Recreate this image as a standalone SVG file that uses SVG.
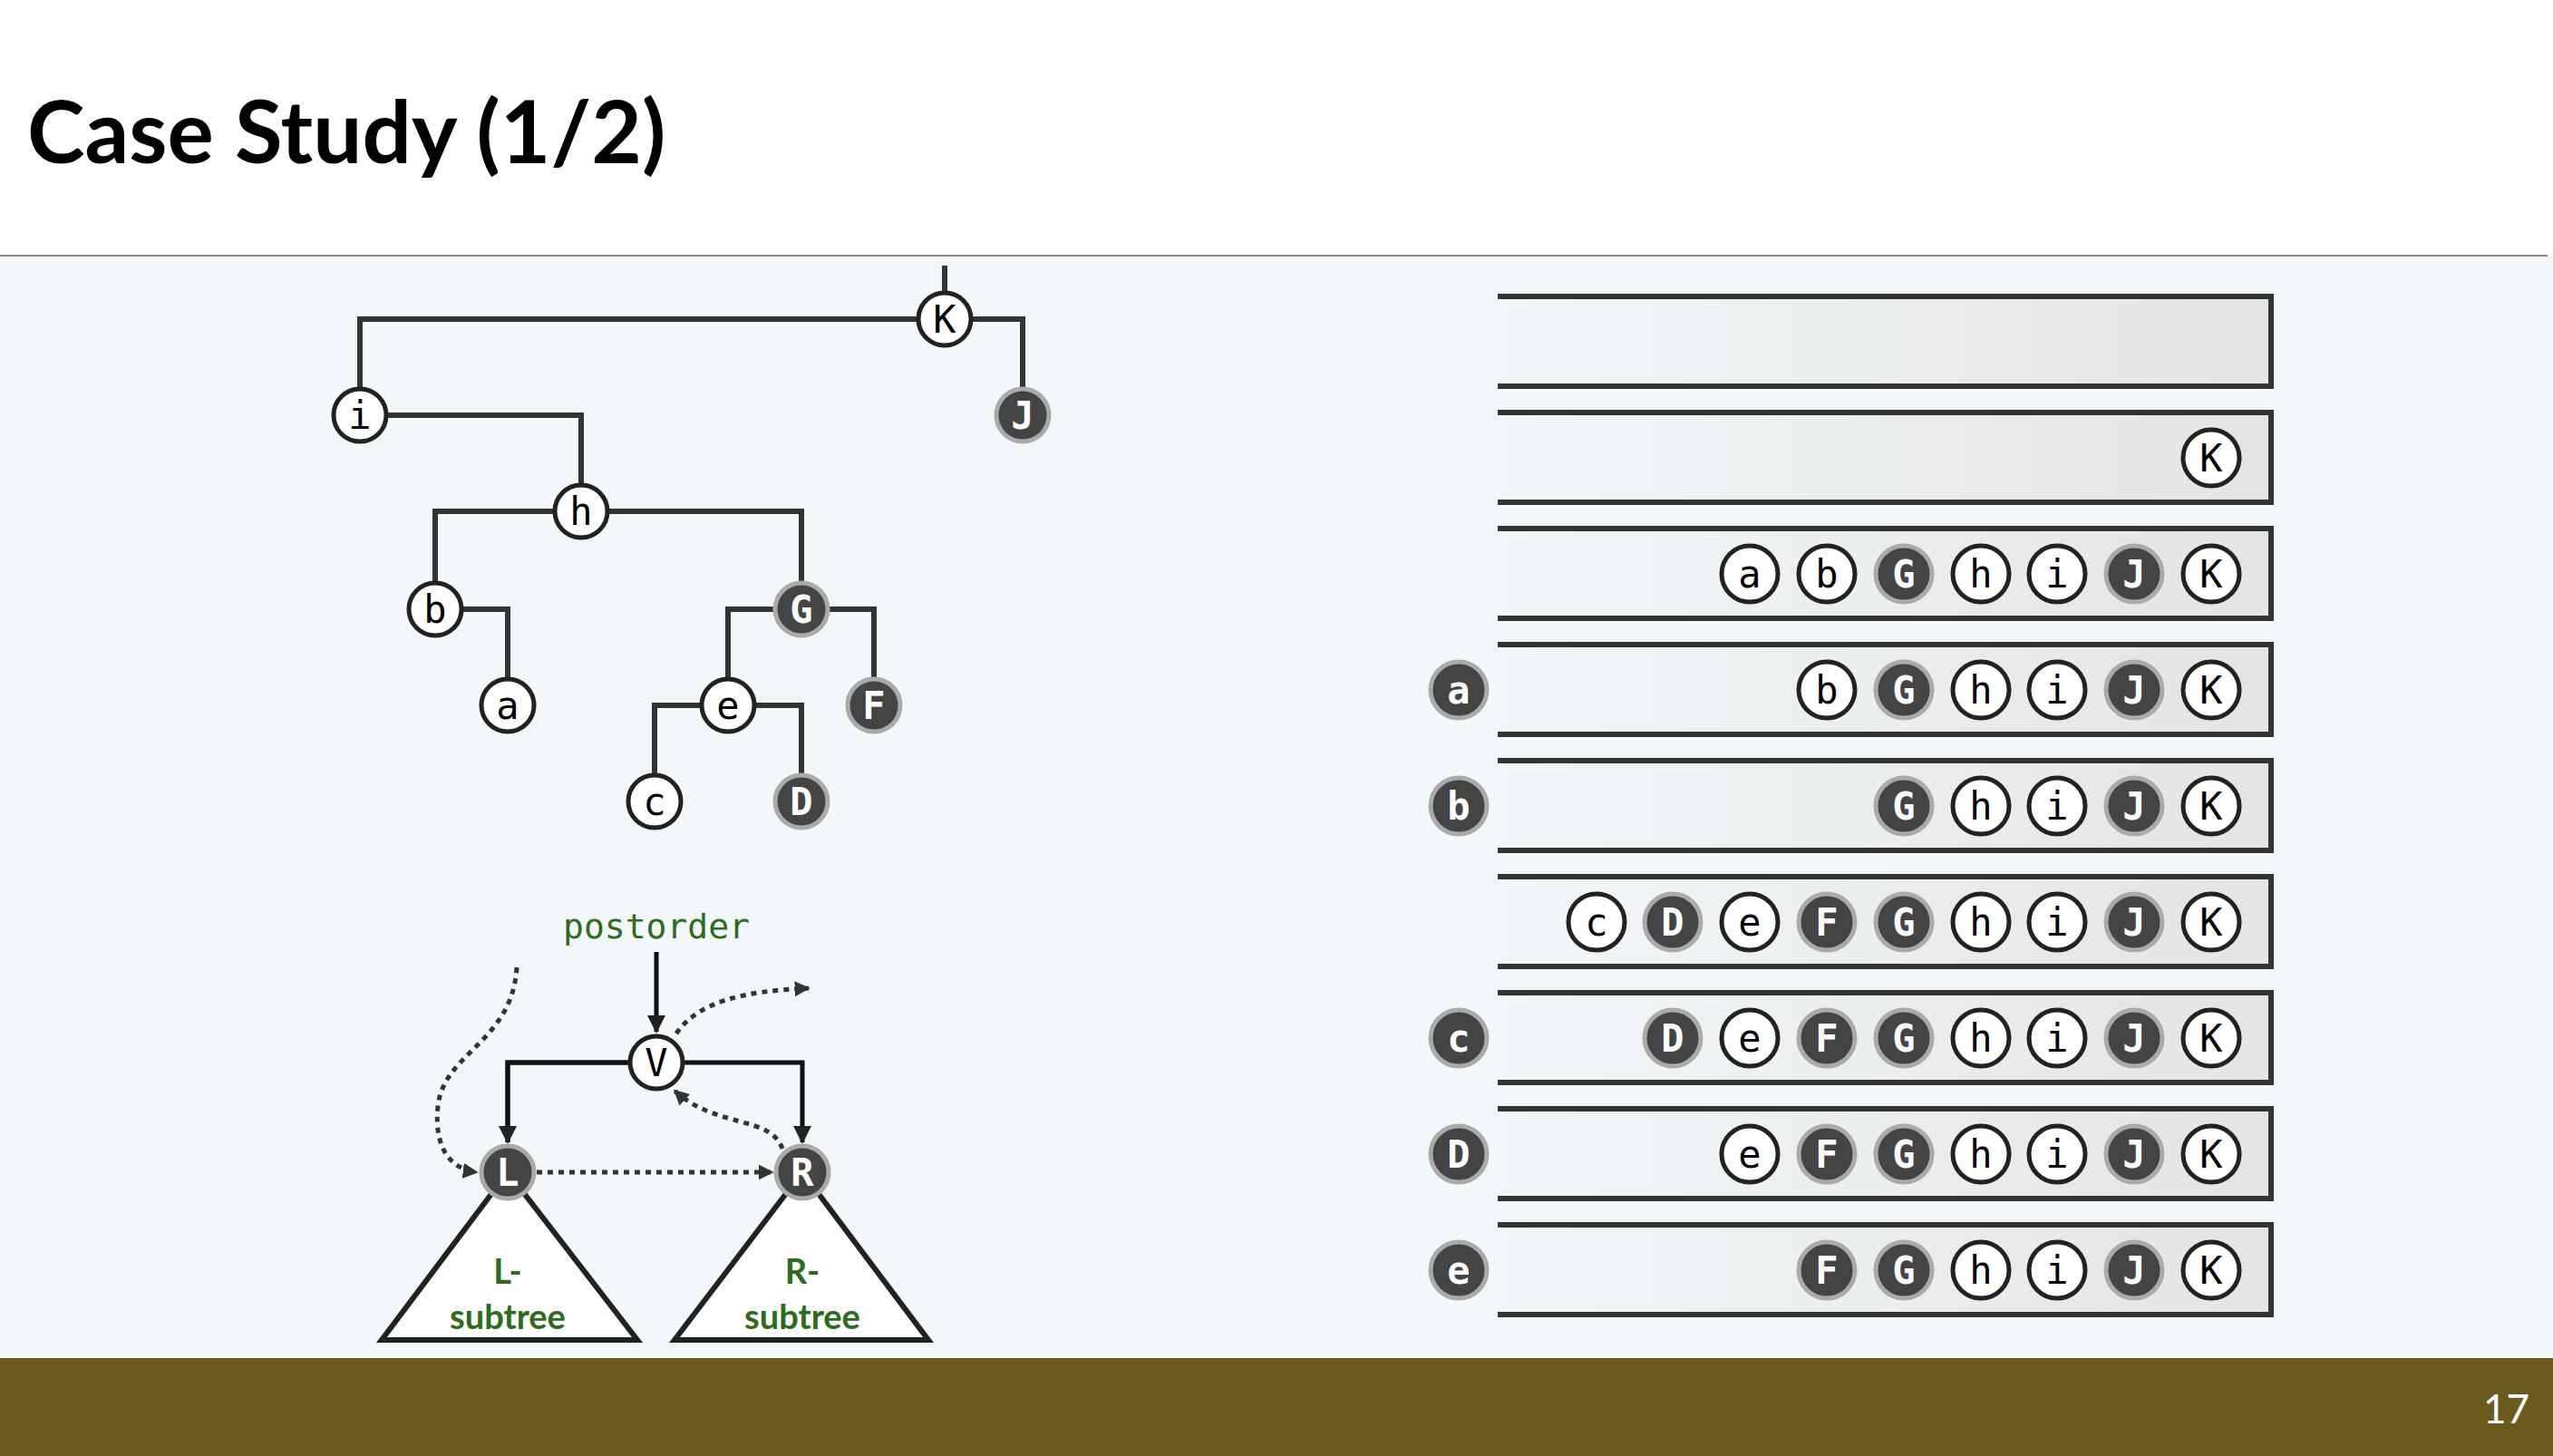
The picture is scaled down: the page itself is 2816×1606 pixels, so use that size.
<svg xmlns="http://www.w3.org/2000/svg" width="2816" height="1606" viewBox="0 0 2816 1606">
<defs>
<style>
.ln{fill:none;stroke:#333;stroke-width:6}
.dot{fill:none;stroke:#333;stroke-width:5;stroke-dasharray:6 6}
.w{fill:#fff;stroke:#222;stroke-width:5}
.d{fill:#444;stroke:#aaa;stroke-width:5}
.tw{font-family:"DejaVu Sans Mono",monospace;font-size:42px;fill:#000;text-anchor:middle;dominant-baseline:central}
.td{font-family:"DejaVu Sans Mono",monospace;font-size:42px;fill:#fff;text-anchor:middle;dominant-baseline:central;font-weight:bold}
.row{fill:url(#rg);stroke:none}
.rowl{fill:none;stroke:#333;stroke-width:6}
.g{font-family:Lato,"Liberation Sans",sans-serif;font-weight:bold;font-size:38px;fill:#2e6b1e;text-anchor:middle}
</style>
<linearGradient id="rg" x1="0" x2="1" y1="0" y2="0"><stop offset="0" stop-color="#f2f7f9"/><stop offset="1" stop-color="#e4e4e4"/></linearGradient>
<marker id="ah" viewBox="0 0 10 10" refX="9" refY="5" markerWidth="4" markerHeight="4" orient="auto"><path d="M0,0L10,5L0,10z" fill="#222"/></marker>
<marker id="ah2" viewBox="0 0 10 10" refX="9" refY="5" markerWidth="3.4" markerHeight="3.4" orient="auto"><path d="M0,0L10,5L0,10z" fill="#333"/></marker>
</defs>
<rect width="2816" height="1606" fill="#fff"/>
<rect x="0" y="282" width="2816" height="1216" fill="#f2f7f9"/>
<line x1="0" y1="282" x2="2810" y2="282" stroke="#888" stroke-width="2"/>
<rect x="0" y="1498" width="2816" height="108" fill="#6b5a1e"/>
<text x="30" y="180" font-family="Lato,'Liberation Sans',sans-serif" font-weight="bold" font-size="96" fill="#000">Case Study (1/2)</text>
<text x="2790" y="1570" font-family="Lato,'Liberation Sans',sans-serif" font-size="44" fill="#fff" text-anchor="end">17</text>

<g id="connectors">
<path class="ln" d="M1042,293V352M1042,352H397V458M1042,352H1128V458M397,458H641V564M641,564H480V672M641,564H884V672M480,672H560V778M884,672H803V778M884,672H964V778M803,778H722V884M803,778H884V884"/>
<path d="M724,1050V1138" stroke="#111" stroke-width="5" fill="none" marker-end="url(#ah)"/>
<path d="M695,1172H560V1260M753,1172H885V1260" stroke="#111" stroke-width="5" fill="none" marker-end="url(#ah)"/>
<path d="M695,1172H560V1260" stroke="#111" stroke-width="5" fill="none" marker-end="url(#ah)"/>
<path class="dot" d="M570,1067C565,1150 490,1160 483,1220C478,1270 500,1290 526,1293" marker-end="url(#ah2)"/>
<path class="dot" d="M746,1140C770,1105 820,1093 892,1090" marker-end="url(#ah2)"/>
<path class="dot" d="M863,1267C850,1230 790,1245 744,1203" marker-end="url(#ah2)"/>
<path class="dot" d="M592,1293H852" marker-end="url(#ah2)"/>
</g>

<g id="tree">
<g id="nK"><circle class="w" cx="1042" cy="352" r="29"/><text class="tw" x="1042" y="352">K</text></g>
<g id="ni"><circle class="w" cx="397" cy="458" r="29"/><text class="tw" x="397" y="458">i</text></g>
<g id="nJ"><circle class="d" cx="1128" cy="458" r="29"/><text class="td" x="1128" y="458">J</text></g>
<g id="nh"><circle class="w" cx="641" cy="564" r="29"/><text class="tw" x="641" y="564">h</text></g>
<g id="nb"><circle class="w" cx="480" cy="672" r="29"/><text class="tw" x="480" y="672">b</text></g>
<g id="nG"><circle class="d" cx="884" cy="672" r="29"/><text class="td" x="884" y="672">G</text></g>
<g id="na"><circle class="w" cx="560" cy="778" r="29"/><text class="tw" x="560" y="778">a</text></g>
<g id="ne"><circle class="w" cx="803" cy="778" r="29"/><text class="tw" x="803" y="778">e</text></g>
<g id="nF"><circle class="d" cx="964" cy="778" r="29"/><text class="td" x="964" y="778">F</text></g>
<g id="nc"><circle class="w" cx="722" cy="884" r="29"/><text class="tw" x="722" y="884">c</text></g>
<g id="nD"><circle class="d" cx="884" cy="884" r="29"/><text class="td" x="884" y="884">D</text></g>
</g>

<g id="postorder">
<text x="724" y="1035" font-family="'DejaVu Sans Mono',monospace" font-size="38" fill="#2e6b1e" text-anchor="middle">postorder</text>
<g id="nV"><circle class="w" cx="724" cy="1172" r="29"/><text class="tw" x="724" y="1172">V</text></g>
<g id="tL"><path d="M560,1293L421,1478H703Z" fill="#fff" stroke="#222" stroke-width="6" stroke-linejoin="miter"/><text class="g" x="560" y="1416">L-</text><text class="g" x="560" y="1466">subtree</text></g>
<g id="tR"><path d="M885,1293L744,1478H1024Z" fill="#fff" stroke="#222" stroke-width="6"/><text class="g" x="885" y="1416">R-</text><text class="g" x="885" y="1466">subtree</text></g>
<g id="nL"><circle class="d" cx="560" cy="1293" r="29" fill="#333"/><text class="td" x="560" y="1293">L</text></g>
<g id="nR"><circle class="d" cx="885" cy="1293" r="29"/><text class="td" x="885" y="1293">R</text></g>
</g>

<g id="rows">
<g id="row0"><rect class="row" x="1652" y="327" width="853" height="99"/><path class="rowl" d="M1652,327H2505V426H1652"/></g>
<g id="row1"><rect class="row" x="1652" y="455" width="853" height="99"/><path class="rowl" d="M1652,455H2505V554H1652"/>
<circle class="w" cx="2439" cy="505" r="31"/><text class="tw" x="2439" y="505">K</text></g>
<g id="row2"><rect class="row" x="1652" y="583" width="853" height="99"/><path class="rowl" d="M1652,583H2505V682H1652"/>
<circle class="w" cx="1930" cy="633" r="31"/><text class="tw" x="1930" y="633">a</text>
<circle class="w" cx="2015" cy="633" r="31"/><text class="tw" x="2015" y="633">b</text>
<circle class="d" cx="2100" cy="633" r="31"/><text class="td" x="2100" y="633">G</text>
<circle class="w" cx="2185" cy="633" r="31"/><text class="tw" x="2185" y="633">h</text>
<circle class="w" cx="2269" cy="633" r="31"/><text class="tw" x="2269" y="633">i</text>
<circle class="d" cx="2354" cy="633" r="31"/><text class="td" x="2354" y="633">J</text>
<circle class="w" cx="2439" cy="633" r="31"/><text class="tw" x="2439" y="633">K</text></g>
<g id="row3"><rect class="row" x="1652" y="711" width="853" height="99"/><path class="rowl" d="M1652,711H2505V810H1652"/>
<circle class="d" cx="1609" cy="761" r="31"/><text class="td" x="1609" y="761">a</text>
<circle class="w" cx="2015" cy="761" r="31"/><text class="tw" x="2015" y="761">b</text>
<circle class="d" cx="2100" cy="761" r="31"/><text class="td" x="2100" y="761">G</text>
<circle class="w" cx="2185" cy="761" r="31"/><text class="tw" x="2185" y="761">h</text>
<circle class="w" cx="2269" cy="761" r="31"/><text class="tw" x="2269" y="761">i</text>
<circle class="d" cx="2354" cy="761" r="31"/><text class="td" x="2354" y="761">J</text>
<circle class="w" cx="2439" cy="761" r="31"/><text class="tw" x="2439" y="761">K</text></g>
<g id="row4"><rect class="row" x="1652" y="839" width="853" height="99"/><path class="rowl" d="M1652,839H2505V938H1652"/>
<circle class="d" cx="1609" cy="889" r="31"/><text class="td" x="1609" y="889">b</text>
<circle class="d" cx="2100" cy="889" r="31"/><text class="td" x="2100" y="889">G</text>
<circle class="w" cx="2185" cy="889" r="31"/><text class="tw" x="2185" y="889">h</text>
<circle class="w" cx="2269" cy="889" r="31"/><text class="tw" x="2269" y="889">i</text>
<circle class="d" cx="2354" cy="889" r="31"/><text class="td" x="2354" y="889">J</text>
<circle class="w" cx="2439" cy="889" r="31"/><text class="tw" x="2439" y="889">K</text></g>
<g id="row5"><rect class="row" x="1652" y="967" width="853" height="99"/><path class="rowl" d="M1652,967H2505V1066H1652"/>
<circle class="w" cx="1761" cy="1017" r="31"/><text class="tw" x="1761" y="1017">c</text>
<circle class="d" cx="1845" cy="1017" r="31"/><text class="td" x="1845" y="1017">D</text>
<circle class="w" cx="1930" cy="1017" r="31"/><text class="tw" x="1930" y="1017">e</text>
<circle class="d" cx="2015" cy="1017" r="31"/><text class="td" x="2015" y="1017">F</text>
<circle class="d" cx="2100" cy="1017" r="31"/><text class="td" x="2100" y="1017">G</text>
<circle class="w" cx="2185" cy="1017" r="31"/><text class="tw" x="2185" y="1017">h</text>
<circle class="w" cx="2269" cy="1017" r="31"/><text class="tw" x="2269" y="1017">i</text>
<circle class="d" cx="2354" cy="1017" r="31"/><text class="td" x="2354" y="1017">J</text>
<circle class="w" cx="2439" cy="1017" r="31"/><text class="tw" x="2439" y="1017">K</text></g>
<g id="row6"><rect class="row" x="1652" y="1095" width="853" height="99"/><path class="rowl" d="M1652,1095H2505V1194H1652"/>
<circle class="d" cx="1609" cy="1145" r="31"/><text class="td" x="1609" y="1145">c</text>
<circle class="d" cx="1845" cy="1145" r="31"/><text class="td" x="1845" y="1145">D</text>
<circle class="w" cx="1930" cy="1145" r="31"/><text class="tw" x="1930" y="1145">e</text>
<circle class="d" cx="2015" cy="1145" r="31"/><text class="td" x="2015" y="1145">F</text>
<circle class="d" cx="2100" cy="1145" r="31"/><text class="td" x="2100" y="1145">G</text>
<circle class="w" cx="2185" cy="1145" r="31"/><text class="tw" x="2185" y="1145">h</text>
<circle class="w" cx="2269" cy="1145" r="31"/><text class="tw" x="2269" y="1145">i</text>
<circle class="d" cx="2354" cy="1145" r="31"/><text class="td" x="2354" y="1145">J</text>
<circle class="w" cx="2439" cy="1145" r="31"/><text class="tw" x="2439" y="1145">K</text></g>
<g id="row7"><rect class="row" x="1652" y="1223" width="853" height="99"/><path class="rowl" d="M1652,1223H2505V1322H1652"/>
<circle class="d" cx="1609" cy="1273" r="31"/><text class="td" x="1609" y="1273">D</text>
<circle class="w" cx="1930" cy="1273" r="31"/><text class="tw" x="1930" y="1273">e</text>
<circle class="d" cx="2015" cy="1273" r="31"/><text class="td" x="2015" y="1273">F</text>
<circle class="d" cx="2100" cy="1273" r="31"/><text class="td" x="2100" y="1273">G</text>
<circle class="w" cx="2185" cy="1273" r="31"/><text class="tw" x="2185" y="1273">h</text>
<circle class="w" cx="2269" cy="1273" r="31"/><text class="tw" x="2269" y="1273">i</text>
<circle class="d" cx="2354" cy="1273" r="31"/><text class="td" x="2354" y="1273">J</text>
<circle class="w" cx="2439" cy="1273" r="31"/><text class="tw" x="2439" y="1273">K</text></g>
<g id="row8"><rect class="row" x="1652" y="1351" width="853" height="99"/><path class="rowl" d="M1652,1351H2505V1450H1652"/>
<circle class="d" cx="1609" cy="1401" r="31"/><text class="td" x="1609" y="1401">e</text>
<circle class="d" cx="2015" cy="1401" r="31"/><text class="td" x="2015" y="1401">F</text>
<circle class="d" cx="2100" cy="1401" r="31"/><text class="td" x="2100" y="1401">G</text>
<circle class="w" cx="2185" cy="1401" r="31"/><text class="tw" x="2185" y="1401">h</text>
<circle class="w" cx="2269" cy="1401" r="31"/><text class="tw" x="2269" y="1401">i</text>
<circle class="d" cx="2354" cy="1401" r="31"/><text class="td" x="2354" y="1401">J</text>
<circle class="w" cx="2439" cy="1401" r="31"/><text class="tw" x="2439" y="1401">K</text></g>
</g>
</svg>
